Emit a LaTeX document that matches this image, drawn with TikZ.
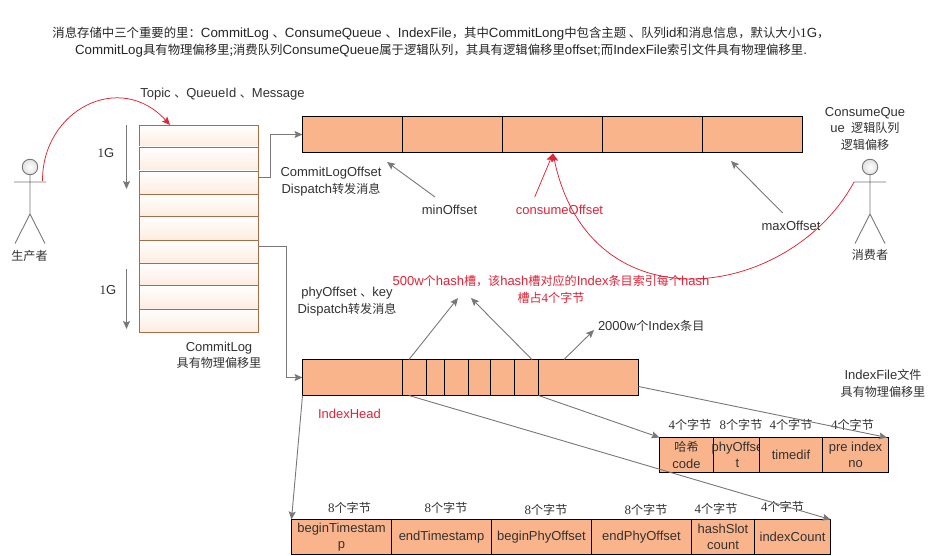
\documentclass[tikz,border=0pt]{standalone}
\usepackage{fontspec}
\setmainfont{Liberation Sans}
\newfontfamily\zh[Scale=0.93]{Noto Sans CJK SC}
\newfontfamily\dg{Liberation Serif}
\newcommand{\Z}[1]{{\zh #1}}
\newcommand{\ByteN}[2]{{\dg #1}{\zh #2}}
\usetikzlibrary{arrows.meta,calc}
\definecolor{peach}{RGB}{250,180,140}
\definecolor{logedge}{RGB}{165,110,70}
\definecolor{logfill}{RGB}{253,236,224}
\definecolor{arrgray}{RGB}{120,120,120}
\definecolor{redc}{RGB}{225,35,55}
\definecolor{txt}{RGB}{50,50,50}
\tikzset{
  cell/.style={draw=black,line width=0.9pt,fill=peach,inner sep=0pt,outer sep=0pt,align=center,text=txt,font=\fontsize{13}{16.5}\selectfont},
  logcell/.style={draw=logedge,line width=0.9pt,top color=white,bottom color=logfill,inner sep=0pt,outer sep=0pt},
  lbl/.style={inner sep=0pt,outer sep=0pt,align=center,text=txt,font=\fontsize{13}{16.5}\selectfont},
  redlbl/.style={lbl,text=redc},
  conn/.style={draw=arrgray,line width=0.9pt,-{Stealth[length=8pt,width=7pt,inset=1.5pt]}},
  redconn/.style={draw=redc,line width=0.75pt,-{Stealth[length=8pt,width=7pt,inset=1.5pt]}},
  stick/.style={draw=arrgray,line width=0.9pt},
  headc/.style={circle,draw=arrgray,line width=0.9pt,inner color=white,outer color=black!12,minimum size=15.5pt,inner sep=0pt,outer sep=0pt}
}
\newcommand{\cellb}[6][cell]{%
  \pgfmathsetmacro\cellW{#4-#2}\pgfmathsetmacro\cellH{#5-#3}%
  \pgfmathsetmacro\cellX{(#2+#4)/2}\pgfmathsetmacro\cellY{(#3+#5)/2}%
  \node[#1,minimum width=\cellW pt,minimum height=\cellH pt] at (\cellX,\cellY) {#6};}
\begin{document}
\begin{tikzpicture}[x=1pt,y=-1pt]
\useasboundingbox (0,0) rectangle (944,556);
\fill[white] (0,0) rectangle (944,556);

% title
\node[lbl,text=black!85,font=\fontsize{13.3}{17}\selectfont] (title) at (441,42) {\Z{消息存储中三个重要的里：}CommitLog \Z{、}ConsumeQueue \Z{、}IndexFile\Z{，其中}CommitLong\Z{中包含主题 、队列}id\Z{和消息信息，默认大小}{\dg 1}G\Z{，}\\CommitLog\Z{具有物理偏移里;消费队列}ConsumeQueue\Z{属于逻辑队列，其具有逻辑偏移里}offset;\Z{而}IndexFile\Z{索引文件具有物理偏移里}.};

% commit log
\cellb[logcell,name=log1]{139}{125}{258}{147}{}
\cellb[logcell,name=log2]{139}{147}{258}{171}{}
\cellb[logcell,name=log3]{139}{171}{258}{194}{}
\cellb[logcell,name=log4]{139}{194}{258}{216}{}
\cellb[logcell,name=log5]{139}{216}{258}{240}{}
\cellb[logcell,name=log6]{139}{240}{258}{263}{}
\cellb[logcell,name=log7]{139}{263}{258}{285}{}
\cellb[logcell,name=log8]{139}{285}{258}{309}{}
\cellb[logcell,name=log9]{139}{309}{258}{332}{}

% consume queue
\cellb[cell,name=q1]{302.5}{116.5}{402.5}{152.5}{}
\cellb[cell,name=q2]{402.5}{116.5}{502.5}{152.5}{}
\cellb[cell,name=q3]{502.5}{116.5}{602.5}{152.5}{}
\cellb[cell,name=q4]{602.5}{116.5}{702.5}{152.5}{}
\cellb[cell,name=q5]{702.5}{116.5}{802.5}{152.5}{}

% index file
\cellb[cell,name=i0]{302.5}{359.5}{402.5}{395.5}{}
\cellb[cell,name=i1]{402.5}{359.5}{426.5}{395.5}{}
\cellb[cell,name=i2]{426.5}{359.5}{444.5}{395.5}{}
\cellb[cell,name=i3]{444.5}{359.5}{468.5}{395.5}{}
\cellb[cell,name=i4]{468.5}{359.5}{490.5}{395.5}{}
\cellb[cell,name=i5]{490.5}{359.5}{514.5}{395.5}{}
\cellb[cell,name=i6]{514.5}{359.5}{538.5}{395.5}{}
\cellb[cell,name=i7]{538.5}{359.5}{638.5}{395.5}{}

% index entry
\cellb[cell,name=e1]{659.5}{437.5}{713.5}{472.5}{\Z{哈希}\\code}
\cellb[cell,name=e2]{713.5}{437.5}{759.5}{472.5}{}
\node[lbl] (e2text) at (737.5,455) {phyOffse\\t};
\cellb[cell,name=e3]{759.5}{437.5}{822.5}{472.5}{timedif}
\cellb[cell,name=e4]{822.5}{437.5}{888.5}{472.5}{pre index\\no}

% index head
\cellb[cell,name=h1]{291.5}{519.5}{391.5}{554.5}{beginTimestam\\p}
\cellb[cell,name=h2]{391.5}{519.5}{491.5}{554.5}{endTimestamp}
\cellb[cell,name=h3]{491.5}{519.5}{591.5}{554.5}{beginPhyOffset}
\cellb[cell,name=h4]{591.5}{519.5}{691.5}{554.5}{endPhyOffset}
\cellb[cell,name=h5]{691.5}{519.5}{754.5}{554.5}{hashSlot\\count}
\cellb[cell,name=h6]{754.5}{519.5}{830.5}{554.5}{indexCount}

% actors
\node[headc] (phead) at (30,167) {};
\coordinate (parmL) at (14,182);
\coordinate (parmR) at (46,182);
\coordinate (phip) at (30,214);
\coordinate (plegL) at (15,243.5);
\coordinate (plegR) at (45,243.5);
\draw[stick] (phead.south) -- (phip) (parmL) -- (parmR) (plegL) -- (phip) -- (plegR);
\node[lbl] (plabel) at (29.5,256) {\Z{生产者}};

\node[headc] (chead) at (870,167) {};
\coordinate (carmL) at (854,182);
\coordinate (carmR) at (886,182);
\coordinate (chip) at (870,214);
\coordinate (clegL) at (855,243.5);
\coordinate (clegR) at (885,243.5);
\draw[stick] (chead.south) -- (chip) (carmL) -- (carmR) (clegL) -- (chip) -- (clegR);
\node[lbl] (clabel) at (870,255) {\Z{消费者}};
\node[lbl] (cqlabel) at (865,128.5) {ConsumeQue\\ue \Z{ 逻辑队列}\\\Z{逻辑偏移}};

% labels
\node[lbl] (toplab) at (222.5,94.5) {Topic \Z{、}QueueId \Z{、}Message};
\node[lbl] (g1) at (106,153) {{\dg 1}G};
\node[lbl] (g2) at (108,290) {{\dg 1}G};
\node[lbl] (clog) at (219,355.5) {CommitLog\\\Z{具有物理偏移里}};
\node[lbl] (cloff) at (331,181.5) {CommitLogOffset\\Dispatch\Z{转发消息}};
\node[lbl] (minl) at (449.5,210) {minOffset};
\node[redlbl] (consl) at (559.5,210) {consumeOffset};
\node[lbl] (maxl) at (791,226) {maxOffset};
\node[redlbl] (hashl) at (551,289.5) {500w\Z{个}hash\Z{槽，该}hash\Z{槽对应的}Index\Z{条目索引每个}hash\\\Z{槽占}{\dg 4}\Z{个字节}};
\node[lbl] (phyl) at (347,301.5) {phyOffset \Z{、}key\\Dispatch\Z{转发消息}};
\node[lbl,anchor=west] (idxl) at (598,326) {2000w\Z{个}Index\Z{条目}};
\node[redlbl] (ihead) at (349.5,414) {IndexHead};
\node[lbl] (ifile) at (883,383.5) {IndexFile\Z{文件}\\\Z{具有物理偏移里}};

\node[lbl] (b1) at (690,425) {\ByteN{4}{个字节}};
\node[lbl] (b2) at (741,425) {\ByteN{8}{个字节}};
\node[lbl] (b3) at (791,425) {\ByteN{4}{个字节}};
\node[lbl] (b4) at (852.5,425) {\ByteN{4}{个字节}};
\node[lbl] (c1) at (349.5,508) {\ByteN{8}{个字节}};
\node[lbl] (c2) at (446,508) {\ByteN{8}{个字节}};
\node[lbl] (c3) at (546,510) {\ByteN{8}{个字节}};
\node[lbl] (c4) at (646,510) {\ByteN{8}{个字节}};
\node[lbl] (c5) at (716,509) {\ByteN{4}{个字节}};
\node[lbl] (c6) at (782.5,507) {\ByteN{4}{个字节}};

% connector waypoints
\coordinate (g1top) at (126.5,125);
\coordinate (g1bot) at (126.5,189);
\coordinate (g2top) at (126.5,269);
\coordinate (g2bot) at (126.5,329);
\coordinate (w1) at (270,177);
\coordinate (w2) at (286.5,246);
\coordinate (minS) at (435,197);
\coordinate (minE) at (387,162);
\coordinate (consS) at (534.7,197);
\coordinate (consE) at (553,153.5);
\coordinate (maxS) at (782.7,213);
\coordinate (maxE) at (731,161);
\coordinate (hS1) at (409,359.5);
\coordinate (hE1) at (458,298);
\coordinate (hS2) at (532,359.5);
\coordinate (hE2) at (471,298);
\coordinate (hS3) at (564,359.5);
\coordinate (hE3) at (594,330);
\coordinate (topS) at (42.5,181);
\coordinate (topE) at (170,125);

\draw[conn] (g1top) -- (g1bot);
\draw[conn] (g2top) -- (g2bot);
\draw[conn] ([yshift=5.5pt]log3.east) -- (w1) |- (q1.west);
\draw[conn] ([yshift=5.5pt]log6.east) -- (w2) |- (i0.west);
\draw[conn] (minS) -- (minE);
\draw[redconn] (consS) -- (consE);
\draw[conn] (maxS) -- (maxE);
\draw[conn] (hS1) -- (hE1);
\draw[conn] (hS2) -- (hE2);
\draw[conn] (hS3) -- (hE3);
\draw[conn] (i0.south west) -- (h1.north west);
\draw[conn] ($(i1.south west)+(6.5pt,0pt)$) -- (h6.north east);
\draw[conn] (i6.south east) -- (e1.north west);
\draw[conn] ($(i7.east)+(0pt,-9pt)$) -- ($(e4.north east)+(-1.5pt,0pt)$);
\draw[redconn] (topS) .. controls (42,110) and (120,70) .. (topE);
\draw[redconn] (carmL) .. controls (790,300) and (590,330) .. (consE);
\end{tikzpicture}
\end{document}
